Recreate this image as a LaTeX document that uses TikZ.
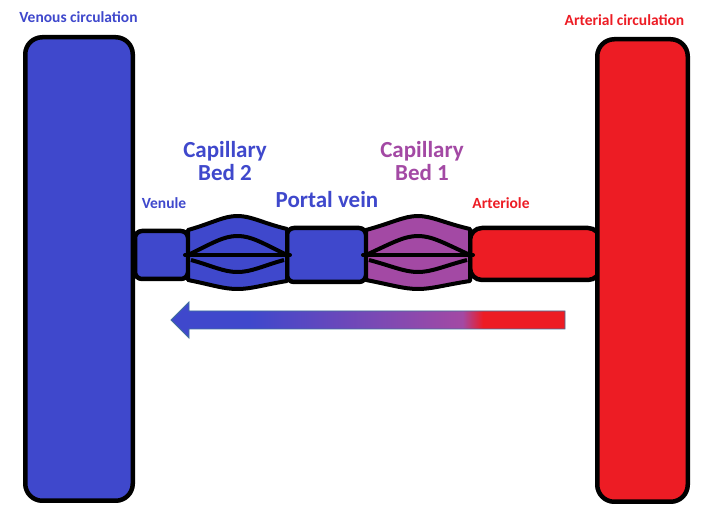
\documentclass[tikz,border=0pt]{standalone}
\usepackage{fontspec}
\setmainfont{Carlito}
\usetikzlibrary{positioning, calc}

\definecolor{veinblue}{HTML}{3F48CC}
\definecolor{bedpurple}{HTML}{A349A4}
\definecolor{arteryred}{HTML}{ED1C24}
\definecolor{arrowedge}{HTML}{41719C}

% blue -> purple -> red along the flow arrow
\pgfdeclarehorizontalshading{bloodflow}{100bp}{
    color(0bp)=(veinblue); color(35bp)=(veinblue);
    color(62bp)=(bedpurple); color(64.6bp)=(arteryred);
    color(100bp)=(arteryred)}

\begin{document}
\begin{tikzpicture}[
    x=1pt, y=-1pt,          % 1 unit = 1 pixel, y downwards
    column/.style={draw, line width=4.5pt, rounded corners=17pt,
        outer sep=0pt, inner sep=0pt},
    tube/.style={draw, line width=4.5pt, rounded corners=7pt,
        outer sep=0pt, inner sep=0pt},
    bed_wall/.style={draw, line width=4pt, line join=round},
    bed_line/.style={line width=4pt, line cap=round},
    tag_small/.style={font=\bfseries\fontsize{15.5}{17}\selectfont},
    tag_big/.style={font=\bfseries\fontsize{23}{23.5}\selectfont, align=center}
]

    % --- frame ---
    \fill [white] (0,0) rectangle (716,521);
    \useasboundingbox (0,0) rectangle (716,521);

    % --- 1. the vessels between the two circulations ---
    \node [tube, fill=veinblue, minimum width=53pt, minimum height=48pt]
        (venule_box) at (161.5,255) {};
    \node [tube, fill=veinblue, minimum width=79pt, minimum height=54pt]
        (portal_box) at (326.5,255) {};
    \node [tube, fill=arteryred, minimum width=130pt, minimum height=52pt,
        rounded corners=12pt] (arteriole_box) at (535,254) {};

    % --- 2. the two capillary beds (drawn from the east side of a box) ---
    \foreach \from/\w/\col in {venule_box/99/veinblue, portal_box/104/bedpurple} {
        \begin{scope}[shift={(\from.east)}]
            % outline
            \filldraw [bed_wall, fill=\col]
                (0,-25) .. controls (\w/4,-32) and (\w/2-14,-39) .. (\w/2,-39)
                .. controls (\w/2+14,-39) and (3*\w/4,-32) .. (\w,-26)
                -- (\w,26)
                .. controls (3*\w/4,30) and (\w/2+14,34) .. (\w/2,34)
                .. controls (\w/2-14,34) and (\w/4,30) .. (0,25) -- cycle;
            % inner vessels
            \draw [bed_wall] (0,0) .. controls (\w/4,-12) and (\w/2-14,-19) .. (\w/2,-19)
                .. controls (\w/2+14,-19) and (3*\w/4,-12) .. (\w,0);
            \draw [bed_wall] (3,5) .. controls (\w/4,11) and (\w/2-14,17) .. (\w/2,17)
                .. controls (\w/2+14,17) and (3*\w/4,11) .. (\w-3,5);
            \draw [bed_line] (-3,0) -- (\w+3,0);
        \end{scope}
    }

    % --- 3. venous and arterial columns ---
    \node [column, fill=veinblue, minimum width=107.5pt, minimum height=463.5pt]
        (venous_col) at (79,269) {};
    \node [column, fill=arteryred, minimum width=90.5pt, minimum height=462.5pt]
        (arterial_col) at (642.5,270.5) {};

    % --- 4. direction of flow ---
    \shadedraw [shading=bloodflow, draw=arrowedge, line width=0.8pt]
        (565,311) -- (189,311) -- (189,302) -- (171,320)
        -- (189,338) -- (189,329) -- (565,329) -- cycle;

    % --- 5. labels ---
    \node [tag_small, text=veinblue] (venous_lbl) at (78.5,17) {Venous circulation};
    \node [tag_small, text=arteryred] (arterial_lbl) at (624.5,20) {Arterial circulation};
    \node [tag_small, text=veinblue] (venule_lbl) at (164,203) {Venule};
    \node [tag_small, text=arteryred] (arteriole_lbl) at (501,203) {Arteriole};
    \node [tag_big, text=veinblue] (bed_two_lbl) at (225,161) {Capillary\\Bed 2};
    \node [tag_big, text=bedpurple] (bed_one_lbl) at (422,161) {Capillary\\Bed 1};
    \node [tag_big, text=veinblue] (portal_lbl) at (327,200) {Portal vein};

\end{tikzpicture}
\end{document}
